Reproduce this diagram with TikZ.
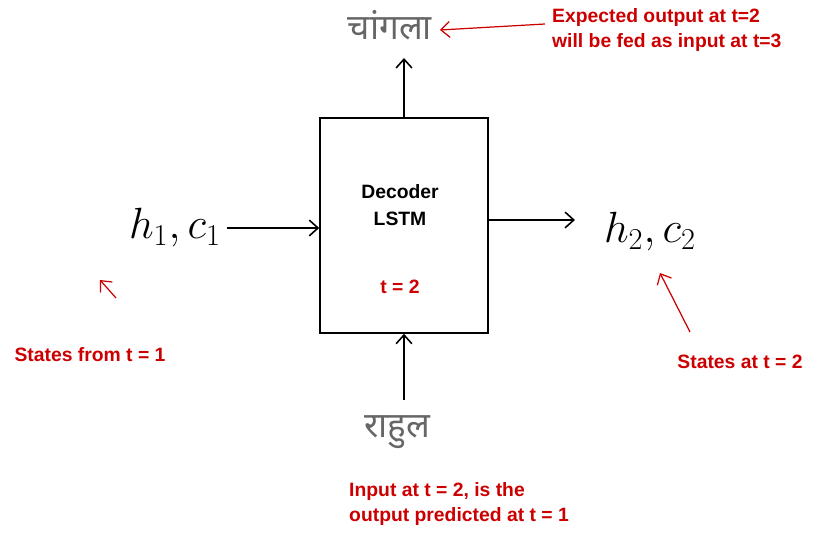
\documentclass[tikz,border=0pt]{standalone}
\usepackage{fontspec}
\usetikzlibrary{arrows.meta}
\setmainfont{Liberation Sans}
\newfontfamily\devfont[Script=Devanagari]{Noto Sans}
\begin{document}
\begin{tikzpicture}[x=0.02cm,y=-0.02cm,
  blk/.style={draw,line width=0.9pt,-{Straight Barb[length=5pt,width=9pt]}},
  red/.style={draw=red!80!black,line width=0.7pt,-{Straight Barb[length=5pt,width=9pt]}},
  note/.style={text=red!80!black,font=\bfseries\fontsize{11}{14}\selectfont,align=left},
  dev/.style={text=black!60,font=\devfont\fontsize{20}{22}\selectfont},
  hand/.style={font=\fontsize{26}{28}\selectfont}]
\useasboundingbox (0,0) rectangle (819,533);
\node[draw,line width=0.9pt,minimum width=168*0.02cm,minimum height=215*0.02cm] (box) at (404,225.5) {};
\node[font=\bfseries\fontsize{11}{15}\selectfont,align=center] (lbl) at (400,205) {Decoder\\LSTM};
\node[note] (t) at (400,287) {t = 2};
\node[dev] (out) at (390,25) {चांगला};
\node[dev] (in) at (397,432) {राहुल};
\node[hand] (h1) at (175,228) {$h_1,c_1$};
\node[hand] (h2) at (650,232) {$h_2,c_2$};
\coordinate (topend) at (404,58);
\coordinate (botstart) at (404,400);
\draw[blk] (box.north) -- (topend);
\draw[blk] (botstart) -- (box.south);
\draw[blk] (h1.east|-404,228) -- (box.west|-404,228);
\draw[blk] (box.east|-404,220) -- (575,220);
\node[note,anchor=west] (n1) at (546,30) {Expected output at t=2\\will be fed as input at t=3};
\node[note] (n2) at (90,355) {States from t = 1};
\node[note] (n3) at (740,362) {States at t = 2};
\node[note,anchor=west] (n4) at (343,504) {Input at t = 2, is the\\output predicted at t = 1};
\coordinate (a1s) at (545,24); \coordinate (a1e) at (440,30);
\draw[red] (a1s) -- (a1e);
\coordinate (a2s) at (116,298); \coordinate (a2e) at (100,280);
\draw[red] (a2s) -- (a2e);
\coordinate (a3s) at (690,332); \coordinate (a3e) at (660,273);
\draw[red] (a3s) -- (a3e);
\end{tikzpicture}
\end{document}
